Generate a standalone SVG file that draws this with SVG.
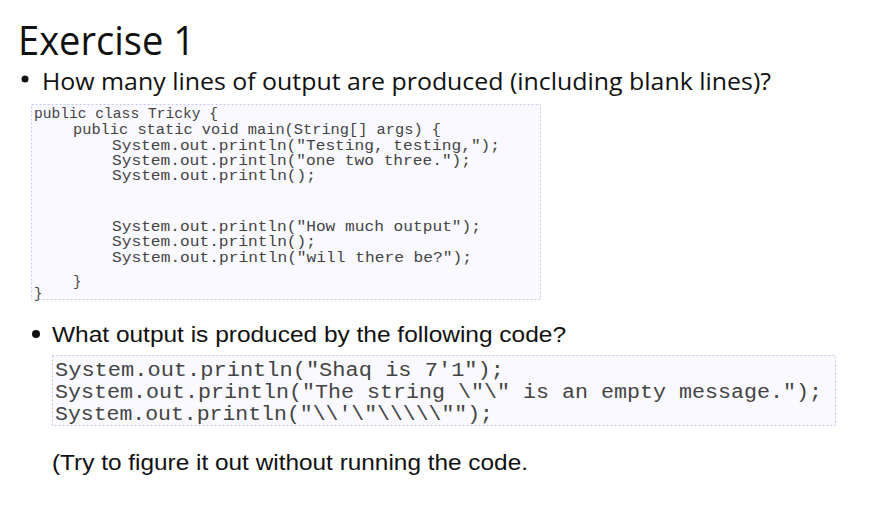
<svg xmlns="http://www.w3.org/2000/svg" width="879" height="512" viewBox="0 0 879 512">
<style>
.code{font-family:"Liberation Mono",monospace;fill:#444;white-space:pre}
.box{fill:#f9f9ff;stroke:#c8c8ee;stroke-width:1;stroke-dasharray:2 2}
.cal{font-family:"Open Sans","Liberation Sans",sans-serif;fill:#111}
.ar{font-family:"Liberation Sans",Arial,sans-serif;fill:#111}
</style>
<rect width="879" height="512" fill="#fff"/>
<text class="cal" x="18" y="55" font-size="40" textLength="177" lengthAdjust="spacingAndGlyphs">Exercise 1</text>
<circle cx="25" cy="79" r="3.5" fill="#111"/>
<text class="cal" x="42" y="90" font-size="24" textLength="729" lengthAdjust="spacingAndGlyphs">How many lines of output are produced (including blank lines)?</text>
<g id="code1">
<rect class="box" x="31.500" y="104.500" width="509" height="195"/>
<g class="code" font-size="14">
<text x="34" y="118" textLength="184" lengthAdjust="spacingAndGlyphs">public class Tricky {</text>
<text x="73" y="134" textLength="368" lengthAdjust="spacingAndGlyphs">public static void main(String[] args) {</text>
<text x="112" y="150" textLength="388" lengthAdjust="spacingAndGlyphs">System.out.println("Testing, testing,");</text>
<text x="112" y="165" textLength="359" lengthAdjust="spacingAndGlyphs">System.out.println("one two three.");</text>
<text x="112" y="180" textLength="204" lengthAdjust="spacingAndGlyphs">System.out.println();</text>
<text x="112" y="231" textLength="369" lengthAdjust="spacingAndGlyphs">System.out.println("How much output");</text>
<text x="112" y="246" textLength="204" lengthAdjust="spacingAndGlyphs">System.out.println();</text>
<text x="112" y="262" textLength="360" lengthAdjust="spacingAndGlyphs">System.out.println("will there be?");</text>
<text x="73" y="286">}</text>
<text x="34" y="298">}</text>
</g>
</g>
<circle cx="36" cy="334" r="4" fill="#111"/>
<text class="ar" x="52" y="342" font-size="22" textLength="514" lengthAdjust="spacingAndGlyphs">What output is produced by the following code?</text>
<g id="code2">
<rect class="box" x="52.500" y="355.500" width="783" height="70"/>
<g class="code" font-size="20">
<text x="55" y="376" textLength="449" lengthAdjust="spacingAndGlyphs">System.out.println("Shaq is 7'1");</text>
<text x="55" y="398" textLength="767" lengthAdjust="spacingAndGlyphs">System.out.println("The string \"\" is an empty message.");</text>
<text x="55" y="420" textLength="438" lengthAdjust="spacingAndGlyphs">System.out.println("\\'\"\\\\\"");</text>
</g>
</g>
<text class="ar" x="52" y="470" font-size="22" textLength="476" lengthAdjust="spacingAndGlyphs">(Try to figure it out without running the code.</text>
</svg>
